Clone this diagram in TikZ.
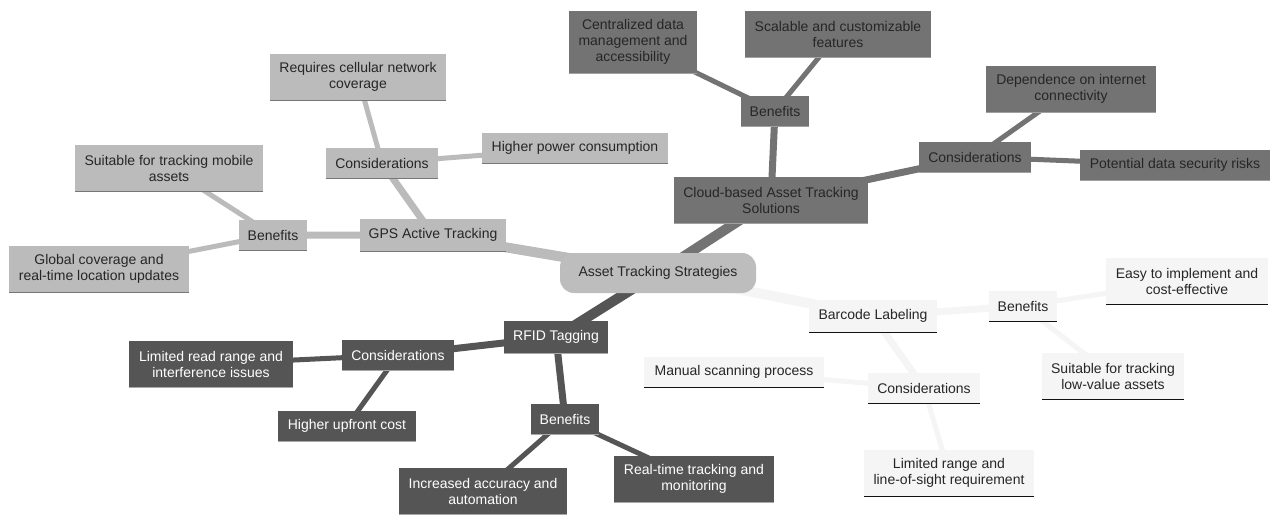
\documentclass[tikz,border=0pt]{standalone}
\usepackage{fontspec}
\setmainfont{Liberation Sans}
\usetikzlibrary{backgrounds}
\begin{document}
\begin{tikzpicture}[x=1pt,y=-1pt,
 base/.style={rectangle,inner sep=0pt,align=center,font=\fontsize{14}{16}\selectfont},
 mk/.style n args={4}{base,fill=#1,text=#2,minimum width=#3,minimum height=#4},
 ul/.style={append after command={\pgfextra{\draw[#1,line width=2pt] (\tikzlastnode.south west)--(\tikzlastnode.south east);}}},
 gp/.style 2 args={mk={gpsc}{black!85}{#1}{#2},ul=gpsb},
 cl/.style 2 args={mk={cldc}{black!85}{#1}{#2},ul=cldb},
 rf/.style 2 args={mk={rfc}{white}{#1}{#2},ul=rfb},
 bc/.style 2 args={mk={bcc}{black!85}{#1}{#2},ul=bcb},
 e1/.style={line width=10pt},e2/.style={line width=7pt},e3/.style={line width=5pt}]
\definecolor{gpsc}{HTML}{BBBBBB}\definecolor{gpsb}{HTML}{777777}
\definecolor{cldc}{HTML}{737373}\definecolor{cldb}{HTML}{A0A0A0}
\definecolor{rfc}{HTML}{555555}\definecolor{rfb}{HTML}{A8A8A8}
\definecolor{bcc}{HTML}{F5F5F5}\definecolor{bcb}{HTML}{111111}
\definecolor{rootc}{HTML}{BDBDBD}
\useasboundingbox (0,0) rectangle (1280,523);
% nodes
\node[base,fill=rootc,text=black!85,minimum width=196,minimum height=40,rounded corners=14pt] (root) at (658,273) {Asset Tracking Strategies};
\node[gp={146}{32}] (gps) at (433,235) {GPS Active Tracking};
\node[gp={68}{30}] (gb) at (273,235) {Benefits};
\node[gp={188}{46}] (gb1) at (169,168) {Suitable for tracking mobile\\assets};
\node[gp={180}{46}] (gb2) at (99,269) {Global coverage and\\real-time location updates};
\node[gp={112}{30}] (gc) at (382,163) {Considerations};
\node[gp={176}{46}] (gc1) at (358,77) {Requires cellular network\\coverage};
\node[gp={186}{30}] (gc2) at (575,148) {Higher power consumption};
\node[cl={194}{46}] (cld) at (771,200) {Cloud-based Asset Tracking\\Solutions};
\node[cl={68}{30}] (cb) at (775,111) {Benefits};
\node[cl={128}{62}] (cb1) at (633,42) {Centralized data\\management and\\accessibility};
\node[cl={186}{46}] (cb2) at (838,34) {Scalable and customizable\\features};
\node[cl={112}{30}] (cc) at (975,157) {Considerations};
\node[cl={170}{46}] (cc1) at (1071,89) {Dependence on internet\\connectivity};
\node[cl={190}{30}] (cc2) at (1175,165) {Potential data security risks};
\node[rf={104}{32}] (rf) at (556,337) {RFID Tagging};
\node[rf={112}{30}] (rc) at (398,355) {Considerations};
\node[rf={164}{46}] (rc1) at (211,364) {Limited read range and\\interference issues};
\node[rf={138}{30}] (rc2) at (347,426) {Higher upfront cost};
\node[rf={68}{30}] (rb) at (565,419) {Benefits};
\node[rf={168}{46}] (rb1) at (483,491) {Increased accuracy and\\automation};
\node[rf={160}{46}] (rb2) at (694,479) {Real-time tracking and\\monitoring};
\node[bc={128}{32}] (bc) at (873,316) {Barcode Labeling};
\node[bc={68}{30}] (bb) at (1023,306) {Benefits};
\node[bc={162}{46}] (bb1) at (1187,281) {Easy to implement and\\cost-effective};
\node[bc={142}{46}] (bb2) at (1113,376) {Suitable for tracking\\low-value assets};
\node[bc={112}{30}] (bcs) at (924,388) {Considerations};
\node[bc={180}{30}] (bcs1) at (734,372) {Manual scanning process};
\node[bc={170}{46}] (bcs2) at (949,473) {Limited range and\\line-of-sight requirement};
% edges
\begin{scope}[on background layer]
\fill[white] (0,0) rectangle (1280,523);
\draw[e1,gpsc] (root.center)--(gps.center);
\draw[e2,gpsc] (gps.center)--(gb.center) (gps.center)--(gc.center);
\draw[e3,gpsc] (gb.center)--(gb1.center) (gb.center)--(gb2.center) (gc.center)--(gc1.center) (gc.center)--(gc2.center);
\draw[e1,cldc] (root.center)--(cld.center);
\draw[e2,cldc] (cld.center)--(cb.center) (cld.center)--(cc.center);
\draw[e3,cldc] (cb.center)--(cb1.center) (cb.center)--(cb2.center) (cc.center)--(cc1.center) (cc.center)--(cc2.center);
\draw[e1,rfc] (root.center)--(rf.center);
\draw[e2,rfc] (rf.center)--(rc.center) (rf.center)--(rb.center);
\draw[e3,rfc] (rc.center)--(rc1.center) (rc.center)--(rc2.center) (rb.center)--(rb1.center) (rb.center)--(rb2.center);
\draw[e1,bcc] (root.center)--(bc.center);
\draw[e2,bcc] (bc.center)--(bb.center) (bc.center)--(bcs.center);
\draw[e3,bcc] (bb.center)--(bb1.center) (bb.center)--(bb2.center) (bcs.center)--(bcs1.center) (bcs.center)--(bcs2.center);
\end{scope}
\end{tikzpicture}
\end{document}
